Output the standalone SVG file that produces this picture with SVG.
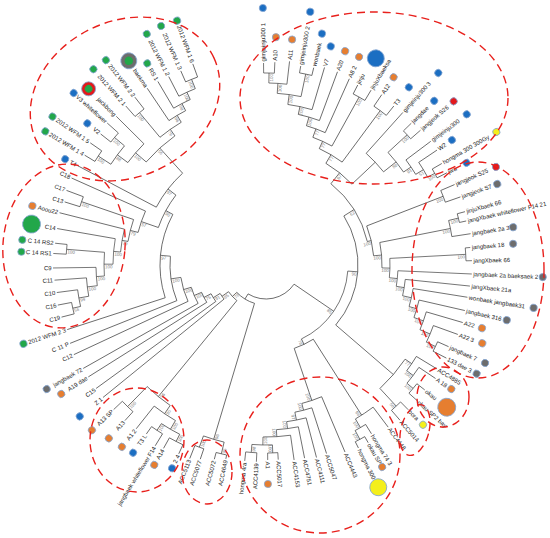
<svg xmlns="http://www.w3.org/2000/svg" width="550" height="538" viewBox="0 0 550 538">
<style>
.br line,.br circle{stroke:#333;stroke-width:0.65;fill:none}
text{font-family:"Liberation Sans",Arial,sans-serif}
.lb{font-size:6px;fill:#1a1a1a}
.bs{font-size:4.5px;fill:#808080}
.e{fill:none;stroke:#e8201c;stroke-width:1.4;stroke-dasharray:8 5}
.d{stroke:#86a6d2;stroke-width:0.8}
.bl{fill:#1b6ec2}.or{fill:#e67e30}.gr{fill:#22a74a}.gy{fill:#6d6d6d}.rd{fill:#e3191c}.ye{fill:#f4ef1c}
</style>
<rect width="550" height="538" fill="#fff"/>
<g transform="translate(266,265)">
<g id="connectors" class="br">
<circle r="34" pathLength="360" stroke-dasharray="87.5 999" transform="rotate(34.3)"/>
<line x1="34" x2="82" transform="rotate(34.3)"/><circle r="82" pathLength="360" stroke-dasharray="60.15 999" transform="rotate(4.25)"/>
<line x1="82" x2="92" transform="rotate(4.25)"/><circle r="92" pathLength="360" stroke-dasharray="72.9 999" transform="rotate(-32.2)"/>
<line x1="92" x2="104" transform="rotate(-32.2)"/><circle r="104" pathLength="360" stroke-dasharray="38.35 999" transform="rotate(-51.4)"/>
<line x1="104" x2="118" transform="rotate(-51.4)"/><circle r="118" pathLength="360" stroke-dasharray="16.25 999" transform="rotate(-59.5)"/>
<line x1="118" x2="128" transform="rotate(-59.5)"/><circle r="128" pathLength="360" stroke-dasharray="11.9 999" transform="rotate(-65.4)"/>
<line x1="128" x2="136" transform="rotate(-65.4)"/><circle r="136" pathLength="360" stroke-dasharray="8.85 999" transform="rotate(-69.85)"/>
<line x1="136" x2="145" transform="rotate(-69.85)"/><circle r="145" pathLength="360" stroke-dasharray="7.9 999" transform="rotate(-73.8)"/>
<line x1="145" x2="154" transform="rotate(-73.8)"/><circle r="154" pathLength="360" stroke-dasharray="8.2 999" transform="rotate(-77.9)"/>
<line x1="154" x2="162" transform="rotate(-77.9)"/><circle r="162" pathLength="360" stroke-dasharray="8.75 999" transform="rotate(-82.25)"/>
<line x1="162" x2="172" transform="rotate(-82.25)"/><circle r="172" pathLength="360" stroke-dasharray="8 999" transform="rotate(-86.25)"/>
<line x1="172" x2="182" transform="rotate(-86.25)"/><circle r="182" pathLength="360" stroke-dasharray="5.7 999" transform="rotate(-89.1)"/>
<line x1="182" x2="192" transform="rotate(-89.1)"/><circle r="192" pathLength="360" stroke-dasharray="3.2 999" transform="rotate(-90.7)"/>
<line x1="172" x2="195" transform="rotate(-78.25)"/><circle r="195" pathLength="360" stroke-dasharray="3.7 999" transform="rotate(-80.1)"/>
<line x1="136" x2="192" transform="rotate(-61)"/><circle r="192" pathLength="360" stroke-dasharray="4 999" transform="rotate(-63)"/>
<line x1="128" x2="192" transform="rotate(-53.5)"/><circle r="192" pathLength="360" stroke-dasharray="4.6 999" transform="rotate(-55.8)"/>
<line x1="118" x2="150" transform="rotate(-43.25)"/><circle r="150" pathLength="360" stroke-dasharray="9.7 999" transform="rotate(-48.1)"/>
<line x1="150" x2="166" transform="rotate(-38.4)"/><circle r="166" pathLength="360" stroke-dasharray="8.65 999" transform="rotate(-42.7)"/>
<line x1="166" x2="192" transform="rotate(-42.7)"/><circle r="192" pathLength="360" stroke-dasharray="3.2 999" transform="rotate(-44.3)"/>
<line x1="166" x2="175" transform="rotate(-34.05)"/><circle r="175" pathLength="360" stroke-dasharray="5.7 999" transform="rotate(-36.9)"/>
<line x1="175" x2="184" transform="rotate(-31.2)"/><circle r="184" pathLength="360" stroke-dasharray="5.4 999" transform="rotate(-33.9)"/>
<line x1="184" x2="192" transform="rotate(-28.5)"/><circle r="192" pathLength="360" stroke-dasharray="3 999" transform="rotate(-30)"/>
<line x1="192" x2="202" transform="rotate(-90.7)"/>
<line x1="192" x2="203" transform="rotate(-87.5)"/>
<line x1="182" x2="205" transform="rotate(-83.4)"/>
<line x1="195" x2="202" transform="rotate(-80.1)"/>
<line x1="195" x2="203" transform="rotate(-76.4)"/>
<line x1="162" x2="206" transform="rotate(-73.5)"/>
<line x1="154" x2="206" transform="rotate(-69.7)"/>
<line x1="145" x2="204" transform="rotate(-65.9)"/>
<line x1="192" x2="202" transform="rotate(-63)"/>
<line x1="192" x2="204" transform="rotate(-59)"/>
<line x1="192" x2="206" transform="rotate(-55.8)"/>
<line x1="192" x2="204" transform="rotate(-51.2)"/>
<line x1="150" x2="205" transform="rotate(-48.1)"/>
<line x1="192" x2="203" transform="rotate(-44.3)"/>
<line x1="192" x2="205" transform="rotate(-41.1)"/>
<line x1="175" x2="206" transform="rotate(-36.9)"/>
<line x1="184" x2="206" transform="rotate(-33.9)"/>
<line x1="192" x2="203" transform="rotate(-30)"/>
<line x1="192" x2="203" transform="rotate(-27)"/>
<line x1="104" x2="108" transform="rotate(-13.05)"/><circle r="108" pathLength="360" stroke-dasharray="16.3 999" transform="rotate(-21.2)"/>
<line x1="108" x2="190" transform="rotate(-21.2)"/><circle r="190" pathLength="360" stroke-dasharray="3.8 999" transform="rotate(-23.1)"/>
<line x1="108" x2="116" transform="rotate(-4.9)"/><circle r="116" pathLength="360" stroke-dasharray="12.65 999" transform="rotate(-11.2)"/>
<line x1="116" x2="188" transform="rotate(-11.2)"/><circle r="188" pathLength="360" stroke-dasharray="5 999" transform="rotate(-13.7)"/>
<line x1="188" x2="198" transform="rotate(-13.7)"/><circle r="198" pathLength="360" stroke-dasharray="2.6 999" transform="rotate(-15)"/>
<line x1="116" x2="124" transform="rotate(1.45)"/><circle r="124" pathLength="360" stroke-dasharray="8.95 999" transform="rotate(-3.05)"/>
<line x1="124" x2="200" transform="rotate(-3.05)"/><circle r="200" pathLength="360" stroke-dasharray="3.7 999" transform="rotate(-4.9)"/>
<line x1="124" x2="132" transform="rotate(5.9)"/><circle r="132" pathLength="360" stroke-dasharray="6.8 999" transform="rotate(2.5)"/>
<line x1="132" x2="140" transform="rotate(9.3)"/><circle r="140" pathLength="360" stroke-dasharray="6.8 999" transform="rotate(5.9)"/>
<line x1="140" x2="149" transform="rotate(12.7)"/><circle r="149" pathLength="360" stroke-dasharray="7.1 999" transform="rotate(9.1)"/>
<line x1="149" x2="157" transform="rotate(16.2)"/><circle r="157" pathLength="360" stroke-dasharray="6.65 999" transform="rotate(12.9)"/>
<line x1="157" x2="167" transform="rotate(19.55)"/><circle r="167" pathLength="360" stroke-dasharray="6.5 999" transform="rotate(16.3)"/>
<line x1="167" x2="178" transform="rotate(22.8)"/><circle r="178" pathLength="360" stroke-dasharray="5.8 999" transform="rotate(19.9)"/>
<line x1="178" x2="188" transform="rotate(25.7)"/><circle r="188" pathLength="360" stroke-dasharray="3.2 999" transform="rotate(24.1)"/>
<line x1="190" x2="205" transform="rotate(-23.1)"/>
<line x1="190" x2="206" transform="rotate(-19.3)"/>
<line x1="198" x2="206" transform="rotate(-15)"/>
<line x1="198" x2="205" transform="rotate(-12.4)"/>
<line x1="188" x2="207" transform="rotate(-8.7)"/>
<line x1="200" x2="205" transform="rotate(-4.9)"/>
<line x1="200" x2="206" transform="rotate(-1.2)"/>
<line x1="132" x2="206" transform="rotate(2.5)"/>
<line x1="140" x2="205" transform="rotate(5.9)"/>
<line x1="149" x2="204" transform="rotate(9.1)"/>
<line x1="157" x2="204" transform="rotate(12.9)"/>
<line x1="167" x2="205" transform="rotate(16.3)"/>
<line x1="178" x2="204" transform="rotate(19.9)"/>
<line x1="188" x2="200" transform="rotate(24.1)"/>
<line x1="188" x2="203" transform="rotate(27.3)"/>
<line x1="92" x2="168" transform="rotate(40.7)"/><circle r="168" pathLength="360" stroke-dasharray="13.2 999" transform="rotate(34.1)"/>
<line x1="168" x2="176" transform="rotate(34.1)"/><circle r="176" pathLength="360" stroke-dasharray="5.6 999" transform="rotate(31.3)"/>
<line x1="176" x2="184" transform="rotate(36.9)"/><circle r="184" pathLength="360" stroke-dasharray="6.2 999" transform="rotate(33.8)"/>
<line x1="184" x2="192" transform="rotate(40)"/><circle r="192" pathLength="360" stroke-dasharray="3.7 999" transform="rotate(38.2)"/>
<line x1="168" x2="192" transform="rotate(47.3)"/><circle r="192" pathLength="360" stroke-dasharray="3.7 999" transform="rotate(45.5)"/>
<line x1="176" x2="200" transform="rotate(31.3)"/>
<line x1="184" x2="204" transform="rotate(33.8)"/>
<line x1="192" x2="202" transform="rotate(38.2)"/>
<line x1="192" x2="203" transform="rotate(41.9)"/>
<line x1="192" x2="203" transform="rotate(45.5)"/>
<line x1="192" x2="205" transform="rotate(49.2)"/>
<line x1="82" x2="88" transform="rotate(64.4)"/><circle r="88" pathLength="360" stroke-dasharray="13.8 999" transform="rotate(57.5)"/>
<line x1="88" x2="178" transform="rotate(57.5)"/><circle r="178" pathLength="360" stroke-dasharray="6.85 999" transform="rotate(53)"/>
<line x1="178" x2="188" transform="rotate(59.85)"/><circle r="188" pathLength="360" stroke-dasharray="3.7 999" transform="rotate(58)"/>
<line x1="188" x2="198" transform="rotate(61.7)"/><circle r="198" pathLength="360" stroke-dasharray="3.1 999" transform="rotate(60.1)"/>
<line x1="88" x2="143" transform="rotate(71.3)"/><circle r="143" pathLength="360" stroke-dasharray="8.4 999" transform="rotate(67.1)"/>
<line x1="143" x2="150" transform="rotate(75.5)"/><circle r="150" pathLength="360" stroke-dasharray="6.7 999" transform="rotate(72.2)"/>
<line x1="150" x2="158" transform="rotate(78.9)"/><circle r="158" pathLength="360" stroke-dasharray="7.2 999" transform="rotate(75.3)"/>
<line x1="158" x2="165" transform="rotate(82.5)"/><circle r="165" pathLength="360" stroke-dasharray="7.7 999" transform="rotate(78.7)"/>
<line x1="165" x2="172" transform="rotate(86.4)"/><circle r="172" pathLength="360" stroke-dasharray="9.2 999" transform="rotate(81.8)"/>
<line x1="172" x2="180" transform="rotate(91)"/><circle r="180" pathLength="360" stroke-dasharray="6.55 999" transform="rotate(87.95)"/>
<line x1="180" x2="188" transform="rotate(87.95)"/><circle r="188" pathLength="360" stroke-dasharray="3.1 999" transform="rotate(86.4)"/>
<line x1="180" x2="188" transform="rotate(94.5)"/><circle r="188" pathLength="360" stroke-dasharray="3.4 999" transform="rotate(92.8)"/>
<line x1="178" x2="203" transform="rotate(53)"/>
<line x1="188" x2="199" transform="rotate(58)"/>
<line x1="198" x2="205" transform="rotate(60.1)"/>
<line x1="198" x2="205" transform="rotate(63.2)"/>
<line x1="143" x2="203" transform="rotate(67.1)"/>
<line x1="150" x2="198" transform="rotate(72.2)"/>
<line x1="158" x2="199" transform="rotate(75.3)"/>
<line x1="165" x2="197" transform="rotate(78.7)"/>
<line x1="172" x2="197" transform="rotate(81.8)"/>
<line x1="188" x2="195" transform="rotate(86.4)"/>
<line x1="188" x2="195" transform="rotate(89.5)"/>
<line x1="188" x2="197" transform="rotate(92.8)"/>
<line x1="188" x2="197" transform="rotate(96.2)"/>
<line x1="34" x2="40" transform="rotate(121.8)"/><circle r="40" pathLength="360" stroke-dasharray="30.2 999" transform="rotate(106.7)"/>
<line x1="40" x2="182" transform="rotate(106.7)"/><circle r="182" pathLength="360" stroke-dasharray="6.8 999" transform="rotate(103.3)"/>
<line x1="182" x2="194" transform="rotate(110.1)"/><circle r="194" pathLength="360" stroke-dasharray="2.8 999" transform="rotate(108.7)"/>
<line x1="182" x2="194" transform="rotate(103.3)"/><circle r="194" pathLength="360" stroke-dasharray="3.2 999" transform="rotate(101.7)"/>
<line x1="194" x2="198" transform="rotate(101.7)"/>
<line x1="194" x2="201" transform="rotate(104.9)"/>
<line x1="194" x2="205" transform="rotate(108.7)"/>
<line x1="194" x2="208" transform="rotate(111.5)"/>
<line x1="40" x2="46" transform="rotate(136.9)"/><circle r="46" pathLength="360" stroke-dasharray="15.25 999" transform="rotate(129.3)"/>
<line x1="46" x2="170" transform="rotate(129.3)"/><circle r="170" pathLength="360" stroke-dasharray="10.05 999" transform="rotate(124.3)"/>
<line x1="170" x2="180" transform="rotate(124.3)"/><circle r="180" pathLength="360" stroke-dasharray="8.2 999" transform="rotate(120.2)"/>
<line x1="180" x2="190" transform="rotate(120.2)"/><circle r="190" pathLength="360" stroke-dasharray="6.4 999" transform="rotate(117)"/>
<line x1="190" x2="198" transform="rotate(117)"/><circle r="198" pathLength="360" stroke-dasharray="4.4 999" transform="rotate(114.8)"/>
<line x1="190" x2="198" transform="rotate(123.4)"/><circle r="198" pathLength="360" stroke-dasharray="3.8 999" transform="rotate(121.5)"/>
<line x1="170" x2="198" transform="rotate(134.35)"/><circle r="198" pathLength="360" stroke-dasharray="4.3 999" transform="rotate(132.2)"/>
<line x1="198" x2="208" transform="rotate(114.8)"/>
<line x1="198" x2="210" transform="rotate(119.2)"/>
<line x1="198" x2="212" transform="rotate(121.5)"/>
<line x1="198" x2="207" transform="rotate(125.3)"/>
<line x1="180" x2="209" transform="rotate(128.4)"/>
<line x1="198" x2="210" transform="rotate(132.2)"/>
<line x1="198" x2="210" transform="rotate(136.5)"/>
<line x1="46" x2="54" transform="rotate(144.55)"/><circle r="54" pathLength="360" stroke-dasharray="7.3 999" transform="rotate(140.9)"/>
<line x1="54" x2="62" transform="rotate(148.2)"/><circle r="62" pathLength="360" stroke-dasharray="8.4 999" transform="rotate(144)"/>
<line x1="62" x2="70" transform="rotate(152.4)"/><circle r="70" pathLength="360" stroke-dasharray="9.2 999" transform="rotate(147.8)"/>
<line x1="70" x2="78" transform="rotate(157)"/><circle r="78" pathLength="360" stroke-dasharray="12.9 999" transform="rotate(150.5)"/>
<line x1="78" x2="86" transform="rotate(163.4)"/><circle r="86" pathLength="360" stroke-dasharray="16.7 999" transform="rotate(155)"/>
<line x1="86" x2="96" transform="rotate(171.7)"/><circle r="96" pathLength="360" stroke-dasharray="27.05 999" transform="rotate(158.2)"/>
<line x1="96" x2="106" transform="rotate(185.25)"/><circle r="106" pathLength="360" stroke-dasharray="46.5 999" transform="rotate(162)"/>
<line x1="106" x2="114" transform="rotate(208.5)"/><circle r="114" pathLength="360" stroke-dasharray="18.6 999" transform="rotate(199.2)"/>
<line x1="114" x2="124" transform="rotate(217.8)"/><circle r="124" pathLength="360" stroke-dasharray="19.95 999" transform="rotate(207.8)"/>
<line x1="54" x2="210" transform="rotate(140.9)"/>
<line x1="62" x2="210" transform="rotate(144)"/>
<line x1="70" x2="210" transform="rotate(147.8)"/>
<line x1="78" x2="210" transform="rotate(150.5)"/>
<line x1="86" x2="212" transform="rotate(155)"/>
<line x1="96" x2="211" transform="rotate(158.2)"/>
<line x1="106" x2="209" transform="rotate(162)"/>
<line x1="114" x2="132" transform="rotate(199.2)"/><circle r="132" pathLength="360" stroke-dasharray="9.8 999" transform="rotate(194.3)"/>
<line x1="132" x2="140" transform="rotate(194.3)"/><circle r="140" pathLength="360" stroke-dasharray="9.25 999" transform="rotate(189.7)"/>
<line x1="140" x2="195" transform="rotate(198.95)"/><circle r="195" pathLength="360" stroke-dasharray="3.1 999" transform="rotate(197.4)"/>
<line x1="140" x2="146" transform="rotate(189.7)"/><circle r="146" pathLength="360" stroke-dasharray="9.1 999" transform="rotate(185.1)"/>
<line x1="146" x2="153" transform="rotate(185.1)"/><circle r="153" pathLength="360" stroke-dasharray="9.6 999" transform="rotate(180.3)"/>
<line x1="153" x2="162" transform="rotate(180.3)"/><circle r="162" pathLength="360" stroke-dasharray="8.4 999" transform="rotate(176.1)"/>
<line x1="162" x2="200" transform="rotate(184.5)"/><circle r="200" pathLength="360" stroke-dasharray="2.8 999" transform="rotate(183.1)"/>
<line x1="162" x2="170" transform="rotate(176.1)"/><circle r="170" pathLength="360" stroke-dasharray="6.2 999" transform="rotate(173)"/>
<line x1="170" x2="180" transform="rotate(173)"/><circle r="180" pathLength="360" stroke-dasharray="5.9 999" transform="rotate(170)"/>
<line x1="180" x2="190" transform="rotate(170)"/><circle r="190" pathLength="360" stroke-dasharray="5.1 999" transform="rotate(167.4)"/>
<line x1="190" x2="198" transform="rotate(167.4)"/><circle r="198" pathLength="360" stroke-dasharray="3.4 999" transform="rotate(165.7)"/>
<line x1="198" x2="211" transform="rotate(165.7)"/>
<line x1="198" x2="212" transform="rotate(169.1)"/>
<line x1="190" x2="211" transform="rotate(172.5)"/>
<line x1="180" x2="212" transform="rotate(175.9)"/>
<line x1="170" x2="213" transform="rotate(179.2)"/>
<line x1="200" x2="213" transform="rotate(183.1)"/>
<line x1="200" x2="212" transform="rotate(185.9)"/>
<line x1="153" x2="212" transform="rotate(189.9)"/>
<line x1="146" x2="213" transform="rotate(194.2)"/>
<line x1="195" x2="211" transform="rotate(197.4)"/>
<line x1="195" x2="213" transform="rotate(200.5)"/>
<line x1="132" x2="213" transform="rotate(204.1)"/>
<line x1="124" x2="213" transform="rotate(207.8)"/>
<line x1="124" x2="158" transform="rotate(227.75)"/><circle r="158" pathLength="360" stroke-dasharray="14.1 999" transform="rotate(220.7)"/>
<line x1="158" x2="172" transform="rotate(220.7)"/><circle r="172" pathLength="360" stroke-dasharray="8.25 999" transform="rotate(216.55)"/>
<line x1="172" x2="185" transform="rotate(216.55)"/><circle r="185" pathLength="360" stroke-dasharray="7.1 999" transform="rotate(213)"/>
<line x1="185" x2="200" transform="rotate(213)"/><circle r="200" pathLength="360" stroke-dasharray="3.6 999" transform="rotate(211.2)"/>
<line x1="185" x2="198" transform="rotate(220.1)"/><circle r="198" pathLength="360" stroke-dasharray="3.4 999" transform="rotate(218.4)"/>
<line x1="158" x2="166" transform="rotate(234.8)"/><circle r="166" pathLength="360" stroke-dasharray="9 999" transform="rotate(230.3)"/>
<line x1="166" x2="198" transform="rotate(230.3)"/><circle r="198" pathLength="360" stroke-dasharray="3.4 999" transform="rotate(228.6)"/>
<line x1="166" x2="174" transform="rotate(239.3)"/><circle r="174" pathLength="360" stroke-dasharray="6.4 999" transform="rotate(236.1)"/>
<line x1="174" x2="182" transform="rotate(242.5)"/><circle r="182" pathLength="360" stroke-dasharray="5.9 999" transform="rotate(239.5)"/>
<line x1="182" x2="190" transform="rotate(245.4)"/><circle r="190" pathLength="360" stroke-dasharray="5.45 999" transform="rotate(242.7)"/>
<line x1="190" x2="200" transform="rotate(248.15)"/><circle r="200" pathLength="360" stroke-dasharray="3.7 999" transform="rotate(246.3)"/>
<line x1="200" x2="212" transform="rotate(211.2)"/>
<line x1="200" x2="214" transform="rotate(214.8)"/>
<line x1="198" x2="211" transform="rotate(218.4)"/>
<line x1="198" x2="213" transform="rotate(221.8)"/>
<line x1="172" x2="211" transform="rotate(224.8)"/>
<line x1="198" x2="212" transform="rotate(228.6)"/>
<line x1="198" x2="213" transform="rotate(232)"/>
<line x1="174" x2="213" transform="rotate(236.1)"/>
<line x1="182" x2="213" transform="rotate(239.5)"/>
<line x1="190" x2="212" transform="rotate(242.7)"/>
<line x1="200" x2="212" transform="rotate(246.3)"/>
<line x1="200" x2="214" transform="rotate(250)"/>
</g>
<g id="bootstrap" class="bs" text-anchor="end">
<text transform="rotate(34.3)" x="81" y="4">85</text>
<text transform="rotate(4.25)" x="91" y="4">90</text>
<text transform="rotate(-32.2)" x="103" y="4">62</text>
<text transform="rotate(-51.4)" x="117" y="4">67</text>
<text transform="rotate(-59.5)" x="127" y="4">77</text>
<text transform="rotate(-65.4)" x="135" y="4">77</text>
<text transform="rotate(-69.85)" x="144" y="4">77</text>
<text transform="rotate(-73.8)" x="153" y="4">100</text>
<text transform="rotate(-77.9)" x="161" y="4">100</text>
<text transform="rotate(-82.25)" x="171" y="4">100</text>
<text transform="rotate(-86.25)" x="181" y="4">100</text>
<text transform="rotate(-89.1)" x="191" y="4">100</text>
<text transform="rotate(-78.25)" x="194" y="4">100</text>
<text transform="rotate(-61)" x="191" y="4">100</text>
<text transform="rotate(-53.5)" x="191" y="4">100</text>
<text transform="rotate(-38.4)" x="165" y="4">86</text>
<text transform="rotate(-42.7)" x="191" y="4">100</text>
<text transform="rotate(-34.05)" x="174" y="4">91</text>
<text transform="rotate(-31.2)" x="183" y="4">51</text>
<text transform="rotate(-28.5)" x="191" y="4">100</text>
<text transform="rotate(-13.05)" x="107" y="4">100</text>
<text transform="rotate(-21.2)" x="189" y="4">100</text>
<text transform="rotate(-4.9)" x="115" y="4">100</text>
<text transform="rotate(-11.2)" x="187" y="4">100</text>
<text transform="rotate(-13.7)" x="197" y="4">100</text>
<text transform="rotate(1.45)" x="123" y="4">100</text>
<text transform="rotate(-3.05)" x="199" y="4">100</text>
<text transform="rotate(5.9)" x="131" y="4">100</text>
<text transform="rotate(9.3)" x="139" y="4">100</text>
<text transform="rotate(12.7)" x="148" y="4">100</text>
<text transform="rotate(16.2)" x="156" y="4">100</text>
<text transform="rotate(19.55)" x="166" y="4">100</text>
<text transform="rotate(22.8)" x="177" y="4">100</text>
<text transform="rotate(25.7)" x="187" y="4">100</text>
<text transform="rotate(34.1)" x="175" y="4">77</text>
<text transform="rotate(36.9)" x="183" y="4">100</text>
<text transform="rotate(40)" x="191" y="4">100</text>
<text transform="rotate(47.3)" x="191" y="4">50</text>
<text transform="rotate(64.4)" x="87" y="4">78</text>
<text transform="rotate(57.5)" x="177" y="4">96</text>
<text transform="rotate(59.85)" x="187" y="4">100</text>
<text transform="rotate(61.7)" x="197" y="4">100</text>
<text transform="rotate(71.3)" x="142" y="4">100</text>
<text transform="rotate(75.5)" x="149" y="4">100</text>
<text transform="rotate(78.9)" x="157" y="4">97</text>
<text transform="rotate(82.5)" x="164" y="4">100</text>
<text transform="rotate(86.4)" x="171" y="4">100</text>
<text transform="rotate(87.95)" x="187" y="4">100</text>
<g text-anchor="start">
<text transform="rotate(-89)" x="-179" y="4">100</text>
<text transform="rotate(-85.5)" x="-187" y="4">98</text>
<text transform="rotate(-73.3)" x="-181" y="4">96</text>
<text transform="rotate(-69.9)" x="-193" y="4">100</text>
<text transform="rotate(-76.7)" x="-193" y="4">95</text>
<text transform="rotate(-43.1)" x="-45" y="4">78</text>
<text transform="rotate(-35.45)" x="-53" y="4">85</text>
<text transform="rotate(-31.8)" x="-61" y="4">91</text>
<text transform="rotate(-27.6)" x="-69" y="4">75</text>
<text transform="rotate(-23)" x="-77" y="4">100</text>
<text transform="rotate(-16.6)" x="-85" y="4">100</text>
<text transform="rotate(-8.3)" x="-95" y="4">100</text>
<text transform="rotate(5.25)" x="-105" y="4">97</text>
<text transform="rotate(28.5)" x="-113" y="4">90</text>
<text transform="rotate(37.8)" x="-123" y="4">97</text>
<text transform="rotate(-50.7)" x="-169" y="4">96</text>
<text transform="rotate(-55.7)" x="-179" y="4">90</text>
<text transform="rotate(-59.8)" x="-189" y="4">100</text>
<text transform="rotate(-63)" x="-197" y="4">100</text>
<text transform="rotate(-56.6)" x="-197" y="4">100</text>
<text transform="rotate(-45.65)" x="-197" y="4">100</text>
<text transform="rotate(19.2)" x="-131" y="4">57</text>
<text transform="rotate(14.3)" x="-139" y="4">79</text>
<text transform="rotate(18.95)" x="-194" y="4">100</text>
<text transform="rotate(9.7)" x="-145" y="4">79</text>
<text transform="rotate(5.1)" x="-152" y="4">100</text>
<text transform="rotate(0.3)" x="-161" y="4">100</text>
<text transform="rotate(4.5)" x="-199" y="4">100</text>
<text transform="rotate(-3.9)" x="-169" y="4">100</text>
<text transform="rotate(-7)" x="-179" y="4">100</text>
<text transform="rotate(-10)" x="-189" y="4">99</text>
<text transform="rotate(-12.6)" x="-197" y="4">56</text>
<text transform="rotate(47.75)" x="-157" y="4">56</text>
<text transform="rotate(40.7)" x="-171" y="4">100</text>
<text transform="rotate(36.55)" x="-184" y="4">88</text>
<text transform="rotate(33)" x="-199" y="4">100</text>
<text transform="rotate(40.1)" x="-197" y="4">100</text>
<text transform="rotate(54.8)" x="-165" y="4">76</text>
<text transform="rotate(50.3)" x="-197" y="4">100</text>
<text transform="rotate(59.3)" x="-173" y="4">96</text>
<text transform="rotate(62.5)" x="-181" y="4">98</text>
<text transform="rotate(65.4)" x="-189" y="4">100</text>
<text transform="rotate(68.15)" x="-199" y="4">100</text>
</g>
</g>
<g id="leaves" class="lb">
<g id="n01" transform="rotate(-90.7)"><text x="203.5" y="2.1">gimjeinju300 1</text><circle class="d bl" cx="257" r="3.6"/></g>
<g id="n02" transform="rotate(-87.5)"><text x="204.5" y="2.1">A10</text><circle class="d or" cx="228" r="3.6"/></g>
<g id="n03" transform="rotate(-83.4)"><text x="206.5" y="2.1">A11</text><circle class="d or" cx="227" r="3.6"/></g>
<g id="n04" transform="rotate(-80.1)"><text x="203.5" y="2.1">gimjeinju300 2</text><circle class="d bl" cx="257" r="3.6"/></g>
<g id="n05" transform="rotate(-76.4)"><text x="204.5" y="2.1">wonbaek</text><circle class="d bl" cx="238" r="3.6"/></g>
<g id="n06" transform="rotate(-73.5)"><text x="207.5" y="2.1">V7</text><circle class="d bl" cx="228" r="3.6"/></g>
<g id="n07" transform="rotate(-69.7)"><text x="207.5" y="2.1">A20</text><circle class="d or" cx="228" r="3.6"/></g>
<g id="n08" transform="rotate(-65.9)"><text x="205.5" y="2.1">A8 2</text><circle class="d or" cx="228" r="3.6"/></g>
<g id="n09" transform="rotate(-63)"><text x="203.5" y="2.1">jinju</text><circle class="d bl" cx="234" cy="4" r="8.5"/></g>
<g id="n10" transform="rotate(-59)"><text x="205.5" y="2.1">jinjuXbaeksa</text></g>
<g id="n11" transform="rotate(-55.8)"><text x="207.5" y="2.1">A12</text><circle class="d or" cx="227" r="3.6"/></g>
<g id="n12" transform="rotate(-51.2)"><text x="205.5" y="2.1">T3</text><circle class="d bl" cx="228" r="3.6"/></g>
<g id="n13" transform="rotate(-48.1)"><text x="206.5" y="2.1">gimjeinju300 3</text><circle class="d bl" cx="258" r="3.6"/></g>
<g id="n14" transform="rotate(-44.3)"><text x="204.5" y="2.1">jangdae</text><circle class="d bl" cx="235" r="3.6"/></g>
<g id="n15" transform="rotate(-41.1)"><text x="206.5" y="2.1">jangjeok S26</text><circle class="d rd" cx="249" r="3.6"/></g>
<g id="n16" transform="rotate(-36.9)"><text x="207.5" y="2.1">gimjeinju300</text><circle class="d bl" cx="251" r="3.6"/></g>
<g id="n17" transform="rotate(-33.9)"><text x="207.5" y="2.1">W2</text><circle class="d bl" cx="224" r="3.6"/></g>
<g id="n18" transform="rotate(-30)"><text x="204.5" y="2.1">hongma 300 300Gy</text><circle class="d ye" cx="266" r="3.6"/></g>
<g id="n19" transform="rotate(-27)"><text x="204.5" y="2.1">jwa</text><circle class="d bl" cx="225" r="3.6"/></g>
<g id="n20" transform="rotate(-23.1)"><text x="206.5" y="2.1">jangjeok S25</text><circle class="d rd" cx="250" r="3.6"/></g>
<g id="n21" transform="rotate(-19.3)"><text x="207.5" y="2.1">jangjeok S7</text><circle class="d gy" cx="245" r="3.6"/></g>
<g id="n22" transform="rotate(-15)"><text x="207.5" y="2.1">jinjuXbaek 66</text></g>
<g id="n23" transform="rotate(-12.4)"><text x="206.5" y="2.1">jangXbaek whiteflower F14 21</text></g>
<g id="n24" transform="rotate(-8.7)"><text x="208.5" y="2.1">jangbaek 2a 3</text><circle class="d gy" cx="250" r="3.6"/></g>
<g id="n25" transform="rotate(-4.9)"><text x="206.5" y="2.1">jangbaek 18</text><circle class="d gy" cx="248" r="3.6"/></g>
<g id="n26" transform="rotate(-1.2)"><text x="207.5" y="2.1">jangXbaek 66</text></g>
<g id="n27" transform="rotate(2.5)"><text x="207.5" y="2.1">jangbaek 2a baeksaek 2</text><circle class="d gy" cx="277" r="3.6"/></g>
<g id="n28" transform="rotate(5.9)"><text x="206.5" y="2.1">jangXbaek 21a</text></g>
<g id="n29" transform="rotate(9.1)"><text x="205.5" y="2.1">wonbaek jangbaek31</text><circle class="d gy" cx="271" r="3.6"/></g>
<g id="n30" transform="rotate(12.9)"><text x="205.5" y="2.1">jangbaek 316</text><circle class="d gy" cx="247" r="3.6"/></g>
<g id="n31" transform="rotate(16.3)"><text x="206.5" y="2.1">A22</text><circle class="d or" cx="225" r="3.6"/></g>
<g id="n32" transform="rotate(19.9)"><text x="205.5" y="2.1">A22 3</text><circle class="d or" cx="230" r="3.6"/></g>
<g id="n33" transform="rotate(24.1)"><text x="201.5" y="2.1">jangbaek 7</text><circle class="d gy" cx="240" r="3.6"/></g>
<g id="n34" transform="rotate(27.3)"><text x="204.5" y="2.1">133 dae 3</text><circle class="d gy" cx="237" r="3.6"/></g>
<g id="n35" transform="rotate(31.3)"><text x="201.5" y="2.1">ACC4885</text></g>
<g id="n36" transform="rotate(33.8)"><text x="205.5" y="2.1">A 18</text><circle class="d or" cx="223" r="3.6"/></g>
<g id="n37" transform="rotate(38.2)"><text x="203.5" y="2.1">okau</text><circle class="d or" cx="230" r="9"/></g>
<g id="n38" transform="rotate(41.9)"><text x="204.5" y="2.1">okau SP2 bay</text></g>
<g id="n39" transform="rotate(45.5)"><text x="204.5" y="2.1">bora</text><circle class="d ye" cx="224" r="3.6"/></g>
<g id="n40" transform="rotate(49.2)"><text x="206.5" y="2.1">ACC5014</text></g>
<g id="n41" transform="rotate(53)"><text x="204.5" y="2.1">ACC4448</text></g>
<g id="n42" transform="rotate(58)"><text x="200.5" y="2.1">hongma 74 3</text></g>
<g id="n43" transform="rotate(60.1)"><text x="206.5" y="2.1">okau SP</text><circle class="d or" cx="233" r="3.6"/></g>
<g id="n44" transform="rotate(63.2)"><text x="206.5" y="2.1">hongma 300</text><circle class="d ye" cx="249" r="8.5"/></g>
<g id="n45" transform="rotate(67.1)"><text x="204.5" y="2.1">ACC4443</text></g>
<g id="n46" transform="rotate(72.2)"><text x="199.5" y="2.1">ACC5047</text></g>
<g id="n47" transform="rotate(75.3)"><text x="200.5" y="2.1">ACC4111</text></g>
<g id="n48" transform="rotate(78.7)"><text x="198.5" y="2.1">ACC4751</text></g>
<g id="n49" transform="rotate(81.8)"><text x="198.5" y="2.1">ACC4153</text></g>
<g id="n50" transform="rotate(86.4)"><text x="196.5" y="2.1">ACC5017</text></g>
<g id="n51" transform="rotate(89.5)"><text x="196.5" y="2.1">A1</text><circle class="d or" cx="219" r="3.6"/></g>
<g text-anchor="end">
<g id="n52" transform="rotate(-87.2)"><text x="-198.5" y="2.1">ACC4139</text></g>
<g id="n53" transform="rotate(-83.8)"><text x="-198.5" y="2.1">hongma 4ra</text></g>
<g id="n54" transform="rotate(-78.3)"><text x="-199.5" y="2.1">ACC4649</text></g>
<g id="n55" transform="rotate(-75.1)"><text x="-202.5" y="2.1">ACC5072</text></g>
<g id="n56" transform="rotate(-71.3)"><text x="-206.5" y="2.1">ACC5077</text></g>
<g id="n57" transform="rotate(-68.5)"><text x="-209.5" y="2.1">ACC5113</text></g>
<g id="n58" transform="rotate(-65.2)"><text x="-209.5" y="2.1">2 4</text><circle class="d bl" cx="-224" r="3.6"/></g>
<g id="n59" transform="rotate(-60.8)"><text x="-211.5" y="2.1">A14</text><circle class="d or" cx="-229" r="3.6"/></g>
<g id="n60" transform="rotate(-58.5)"><text x="-213.5" y="2.1">jangbaek whiteflower F14</text></g>
<g id="n61" transform="rotate(-54.7)"><text x="-208.5" y="2.1">T3 L</text><circle class="d bl" cx="-230" r="3.6"/></g>
<g id="n62" transform="rotate(-51.6)"><text x="-210.5" y="2.1">A1 2</text><circle class="d or" cx="-232" r="3.6"/></g>
<g id="n63" transform="rotate(-47.8)"><text x="-211.5" y="2.1">A13</text><circle class="d or" cx="-234" r="3.6"/></g>
<g id="n64" transform="rotate(-43.5)"><text x="-211.5" y="2.1">A13 SP</text><circle class="d or" cx="-240" r="3.6"/></g>
<g id="n65" transform="rotate(-39.1)"><text x="-211.5" y="2.1">Z 1</text><circle class="d bl" cx="-240" r="3.6"/></g>
<g id="n66" transform="rotate(-36)"><text x="-211.5" y="2.1">C15</text></g>
<g id="n67" transform="rotate(-32.2)"><text x="-211.5" y="2.1">A19 dae</text><circle class="d or" cx="-242" r="3.6"/></g>
<g id="n68" transform="rotate(-29.5)"><text x="-211.5" y="2.1">jangbaek 72</text><circle class="d gy" cx="-252" r="3.6"/></g>
<g id="n69" transform="rotate(-25)"><text x="-213.5" y="2.1">C12</text></g>
<g id="n70" transform="rotate(-21.8)"><text x="-212.5" y="2.1">C 11 P</text></g>
<g id="n71" transform="rotate(-18)"><text x="-210.5" y="2.1">2012 WFM 2 3</text><circle class="d gr" cx="-255" r="3.6"/></g>
<g id="n72" transform="rotate(-14.3)"><text x="-212.5" y="2.1">C19</text></g>
<g id="n73" transform="rotate(-10.9)"><text x="-213.5" y="2.1">C16</text></g>
<g id="n74" transform="rotate(-7.5)"><text x="-212.5" y="2.1">C10</text></g>
<g id="n75" transform="rotate(-4.1)"><text x="-213.5" y="2.1">C11</text></g>
<g id="n76" transform="rotate(-0.8)"><text x="-214.5" y="2.1">C9</text></g>
<g id="n77" transform="rotate(3.1)"><text x="-214.5" y="2.1">C 14 RS1</text><circle class="d gr" cx="-245" r="3.6"/></g>
<g id="n78" transform="rotate(5.9)"><text x="-213.5" y="2.1">C 14 RS2</text><circle class="d gr" cx="-245" r="3.6"/></g>
<g id="n79" transform="rotate(9.9)"><text x="-213.5" y="2.1">C14</text><circle class="d gr" cx="-238" r="9"/></g>
<g id="n80" transform="rotate(14.2)"><text x="-214.5" y="2.1">Aoou22</text><circle class="d or" cx="-241" r="3.6"/></g>
<g id="n81" transform="rotate(17.4)"><text x="-212.5" y="2.1">C13</text></g>
<g id="n82" transform="rotate(20.5)"><text x="-214.5" y="2.1">C17</text></g>
<g id="n83" transform="rotate(24.1)"><text x="-214.5" y="2.1">C18</text></g>
<g id="n84" transform="rotate(27.8)"><text x="-214.5" y="2.1">T4</text><circle class="d bl" cx="-227" r="3.6"/></g>
<g id="n85" transform="rotate(31.2)"><text x="-213.5" y="2.1">2012 WFM 1 4</text><circle class="d gr" cx="-258" r="3.6"/></g>
<g id="n86" transform="rotate(34.8)"><text x="-215.5" y="2.1">2012 WFM 1 5</text><circle class="d gr" cx="-260" r="3.6"/></g>
<g id="n87" transform="rotate(38.4)"><text x="-212.5" y="2.1">V2</text><circle class="d bl" cx="-228" r="3.6"/></g>
<g id="n88" transform="rotate(41.8)"><text x="-214.5" y="2.1">V3 whiteflower</text><circle class="d bl" cx="-258" r="3.6"/></g>
<g id="n89" transform="rotate(44.8)"><text x="-212.5" y="2.1">jackbong</text><circle class="d rd" cx="-250" r="7"/><circle class="gr" cx="-250" r="3.8"/></g>
<g id="n90" transform="rotate(48.6)"><text x="-213.5" y="2.1">2012 WFM 2 1</text><circle class="d gr" cx="-261" r="3.6"/></g>
<g id="n91" transform="rotate(52)"><text x="-214.5" y="2.1">2012 WFM 2 2</text><circle class="d gr" cx="-260" r="3.6"/></g>
<g id="n92" transform="rotate(56.1)"><text x="-214.5" y="2.1">baekma</text><circle class="d gy" cx="-246" r="8"/><circle class="gr" cx="-246" r="4.2"/></g>
<g id="n93" transform="rotate(59.5)"><text x="-214.5" y="2.1">RS 1</text><circle class="d gr" cx="-234" r="3.6"/></g>
<g id="n94" transform="rotate(62.7)"><text x="-213.5" y="2.1">2012 WFM 1 2</text><circle class="d gr" cx="-260" r="3.6"/></g>
<g id="n95" transform="rotate(66.3)"><text x="-213.5" y="2.1">2012 WFM 1 3</text><circle class="d gr" cx="-261" r="3.6"/></g>
<g id="n96" transform="rotate(70)"><text x="-215.5" y="2.1">2012 WFM 1 6</text><circle class="d gr" cx="-260" r="3.6"/></g>
</g>
</g>
</g>
<g id="clusters">
<ellipse class="e" cx="125" cy="99" rx="98" ry="78" transform="rotate(-25 125 99)"/>
<ellipse class="e" cx="374" cy="98" rx="134" ry="86"/>
<ellipse class="e" cx="64" cy="246" rx="61" ry="82" transform="rotate(5 64 246)"/>
<ellipse class="e" cx="478" cy="270" rx="66" ry="108"/>
<ellipse class="e" cx="443" cy="397" rx="26" ry="30"/>
<ellipse class="e" cx="415" cy="430" rx="14" ry="26" transform="rotate(15 415 430)"/>
<ellipse class="e" cx="320" cy="455" rx="80" ry="78"/>
<ellipse class="e" cx="207" cy="472" rx="25" ry="32"/>
<ellipse class="e" cx="137" cy="440" rx="47" ry="52"/>
</g>
</svg>
